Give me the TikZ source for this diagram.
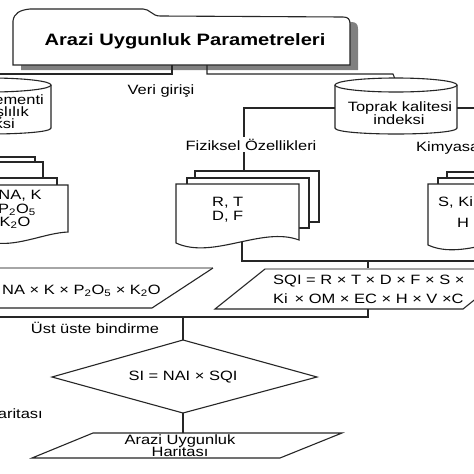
\documentclass[tikz,border=0pt]{standalone}
\usepackage{fontspec}
\setmainfont{Liberation Sans}[FakeStretch=1.22]
\begin{document}
\begin{tikzpicture}[x=1pt,y=-1pt,
  ln/.style={line width=1.1pt,draw=black!85},
  gedge/.style={line width=1.8pt,draw=black!35},
  shadowfill/.style={fill=black!50},
  txt/.style={inner sep=0pt,font=\fontsize{13.5}{14}\selectfont},
  ttl/.style={inner sep=0pt,font=\fontsize{16.5}{18}\selectfont\bfseries},
  whitebg/.style={txt,fill=white,inner sep=2pt}]
\useasboundingbox (0,0) rectangle (474,474);
\fill[white] (0,0) rectangle (474,474);
\begin{scope}
\clip (0,0) rectangle (474,474);

% ---------- title card ----------
\fill[shadowfill] (21,70) -- (21,26) .. controls (22,18) and (28,15) .. (38,14) -- (151,14) .. controls (158,14) and (160,21) .. (168,21) -- (351,22) .. controls (356,22) and (358,24) .. (358,29) -- (358,70) -- cycle;
\draw[ln,fill=white] (13,65) -- (13,21) .. controls (14,13) and (20,10) .. (30,9) -- (143,9) .. controls (150,9) and (152,16) .. (160,16) -- (343,17) .. controls (348,17) and (350,19) .. (350,24) -- (350,65) -- cycle;
\node[ttl,anchor=base] (title) at (185,45) {Arazi Uygunluk Parametreleri};

\coordinate (tA) at (172,65);
\coordinate (tB) at (207,65);
\coordinate (busL) at (-10,74);
\coordinate (cylRtop) at (395,79);
\draw[ln] (tA) |- (busL);
\draw[ln] (tB) |- (393,74) -- (cylRtop);
\node[txt,anchor=base] (veri) at (161,94) {Veri girişi};

% ---------- cylinders ----------
\draw[ln,fill=white] (-71,85) -- (-71,128) .. controls (-71,136) and (51,136) .. (51,128) -- (51,85);
\draw[ln,fill=white] (-10,85) ellipse [x radius=61pt, y radius=7pt];
\node[txt,anchor=base east] (cL1) at (44,104) {ementi};
\node[txt,anchor=base east] (cL2) at (29,116) {şlılık};
\node[txt,anchor=base east] (cL3) at (15,128) {ksi};

\draw[ln,fill=white] (335,85) -- (335,128) .. controls (335,136) and (457,136) .. (457,128) -- (457,85);
\draw[ln,fill=white] (396,85) ellipse [x radius=61pt, y radius=7pt];
\node[txt,anchor=base] (cR1) at (400,111) {Toprak kalitesi};
\node[txt,anchor=base] (cR2) at (399,124) {indeksi};

\coordinate (cylRleft) at (335,108);
\coordinate (cylRright) at (457,108);
\coordinate (docMtop) at (244,171);
\coordinate (docRtopout) at (490,108);
\draw[ln] (cylRleft) -| (docMtop);
\draw[ln] (cylRright) -- (docRtopout);
\node[whitebg,anchor=base] (fiz) at (251,150) {Fiziksel Özellikleri};
\node[txt,anchor=base west] (kim) at (416,151) {Kimyasal};

% ---------- bus lines (drawn before documents) ----------
\coordinate (docMbot) at (242,240);
\coordinate (busR) at (490,261);
\coordinate (sqiTop) at (368,269);
\draw[ln] (docMbot) |- (busR);
\draw[ln] (368,261) -- (sqiTop);

% ---------- left document stack (mirrored) ----------
\draw[ln,fill=white] (-90,157) rectangle (35,200);
\draw[ln,fill=white] (-82,162) rectangle (43,205);
\draw[ln,fill=white] (-66,178) rectangle (57,220);
\draw[ln,fill=white] (-55,185) -- (68,185) -- (68,232) .. controls (45,233) and (20,246) .. (-5,243) .. controls (-25,240) and (-45,236) .. (-55,236) -- cycle;
\node[txt,anchor=base] (dL1) at (20,199) {NA, K};
\node[txt,anchor=base] (dL2) at (17,213) {P\textsubscript{2}O\textsubscript{5}};
\node[txt,anchor=base] (dL3) at (15,226) {K\textsubscript{2}O};

% ---------- middle document stack ----------
\draw[ln,fill=white] (195,171) rectangle (319,222);
\draw[ln,fill=white] (187,178) rectangle (309,228);
\draw[ln,fill=white] (176,184) -- (299,184) -- (299,240) .. controls (262,226) and (213,260) .. (176,243) -- cycle;
\node[txt,anchor=base west] (dM1) at (212,206) {R, T};
\node[txt,anchor=base west] (dM2) at (212,220) {D, F};

% ---------- right document stack ----------
\begin{scope}[shift={(252,0)}]
\draw[ln,fill=white] (195,172) rectangle (319,222);
\draw[ln,fill=white] (186,178) rectangle (309,228);
\draw[ln,fill=white] (176,184) -- (299,184) -- (299,241) .. controls (262,227) and (213,262) .. (176,245) -- cycle;
\end{scope}
\node[txt,anchor=base west] (dR1) at (438,206) {S, Ki,};
\node[txt,anchor=base west] (dR2) at (457,227) {H};

% ---------- NA parallelogram ----------
\fill[white] (-60,268) -- (213,268) -- (152,308) -- (-60,308) -- cycle;
\draw[gedge] (-60,268) -- (213,268);
\draw[ln] (213,268) -- (152,308) -- (-60,308);
\node[txt,anchor=base west] (na) at (2,294) {NA × K × P\textsubscript{2}O\textsubscript{5} × K\textsubscript{2}O};

% ---------- SQI parallelogram ----------
\fill[white] (265,269) -- (520,269) -- (470,309) -- (215,309) -- cycle;
\draw[gedge] (265,269) -- (520,269);
\draw[ln] (265,269) -- (215,309) -- (463,309) -- (513,269);
\node[txt,anchor=base west] (sqi1) at (273,284) {SQI = R × T × D × F × S ×};
\node[txt,anchor=base west] (sqi2) at (273,303) {Ki \,× OM × EC × H × V ×C};

% ---------- overlay ----------
\coordinate (sqiBot) at (368,309);
\coordinate (busBot) at (-10,317);
\coordinate (busJ) at (183,317);
\coordinate (diaTop) at (183,340);
\draw[ln] (sqiBot) |- (busBot);
\draw[ln] (busJ) -- (diaTop);
\node[txt,anchor=base] (ust) at (95,333) {Üst üste bindirme};

\draw[ln,fill=white] (183,340) -- (317,377) -- (183,413) -- (52,377) -- cycle;
\node[txt,anchor=base] (dia) at (183,380) {SI = NAI × SQI};

\coordinate (diaBot) at (183,413);
\coordinate (outTop) at (183,433);
\draw[ln] (diaBot) -- (outTop);

\node[txt,anchor=base east] (har) at (43,418) {aritası};

\draw[ln,fill=white] (93,433) -- (342,433) -- (280,458) -- (32,458) -- cycle;
\node[txt,anchor=base] (out1) at (180,444) {Arazi Uygunluk};
\node[txt,anchor=base] (out2) at (180,456) {Haritası};
\end{scope}
\end{tikzpicture}
\end{document}
